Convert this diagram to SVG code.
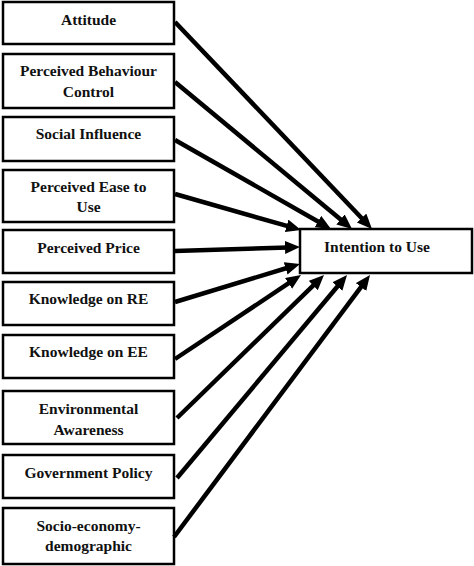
<svg xmlns="http://www.w3.org/2000/svg" width="474" height="566" viewBox="0 0 474 566">
<style>
.box{fill:#fff;stroke:#000;stroke-width:2.5}
.t{font-family:"Liberation Serif","Times New Roman",serif;font-weight:bold;font-size:15.5px;fill:#111;text-anchor:middle}
.c{stroke:#000;stroke-width:4.5;fill:none;marker-end:url(#ah)}
</style>
<defs>
<marker id="ah" markerUnits="userSpaceOnUse" markerWidth="16" markerHeight="14" refX="3" refY="6.5" orient="auto">
<path d="M0,0 L15,6.5 L0,13 z" fill="#000"/>
</marker>
</defs>
<rect width="474" height="566" fill="#fff"/>
<g id="n1"><rect class="box" x="3" y="2" width="171" height="42"/><text class="t" x="88.5" y="25">Attitude</text></g>
<g id="n2"><rect class="box" x="3" y="54" width="171" height="54"/><text class="t" x="88.5" y="76">Perceived Behaviour</text><text class="t" x="88.5" y="97">Control</text></g>
<g id="n3"><rect class="box" x="3" y="117" width="171" height="44"/><text class="t" x="88.5" y="139">Social Influence</text></g>
<g id="n4"><rect class="box" x="3" y="170" width="171" height="52"/><text class="t" x="88.5" y="192">Perceived Ease to</text><text class="t" x="88.5" y="212">Use</text></g>
<g id="n5"><rect class="box" x="3" y="230" width="171" height="43"/><text class="t" x="88.5" y="253">Perceived Price</text></g>
<g id="n6"><rect class="box" x="3" y="282" width="171" height="43"/><text class="t" x="88.5" y="304">Knowledge on RE</text></g>
<g id="n7"><rect class="box" x="3" y="335" width="171" height="43"/><text class="t" x="88.5" y="357">Knowledge on EE</text></g>
<g id="n8"><rect class="box" x="3" y="391" width="171" height="53"/><text class="t" x="88.5" y="414">Environmental</text><text class="t" x="88.5" y="435">Awareness</text></g>
<g id="n9"><rect class="box" x="3" y="455" width="171" height="43"/><text class="t" x="88.5" y="478">Government Policy</text></g>
<g id="n10"><rect class="box" x="3" y="508" width="171" height="56"/><text class="t" x="88.5" y="531">Socio-economy-</text><text class="t" x="88.5" y="551">demographic</text></g>
<g id="target"><rect class="box" x="300" y="229" width="172" height="44"/><text class="t" x="377" y="252">Intention to Use</text></g>
<g id="connectors">
<line class="c" x1="175" y1="22" x2="363.7" y2="220.3"/>
<line class="c" x1="175" y1="82" x2="342.8" y2="221.3"/>
<line class="c" x1="175" y1="140" x2="320.6" y2="223"/>
<line class="c" x1="175" y1="194" x2="289.5" y2="226.7"/>
<line class="c" x1="175" y1="251" x2="288" y2="247.4"/>
<line class="c" x1="175" y1="302" x2="288.5" y2="267.5"/>
<line class="c" x1="175" y1="359" x2="291" y2="281.7"/>
<line class="c" x1="177" y1="418" x2="315.4" y2="283.4"/>
<line class="c" x1="177" y1="478" x2="339.3" y2="284.2"/>
<line class="c" x1="174" y1="537" x2="362.8" y2="284.6"/>
</g>
</svg>
